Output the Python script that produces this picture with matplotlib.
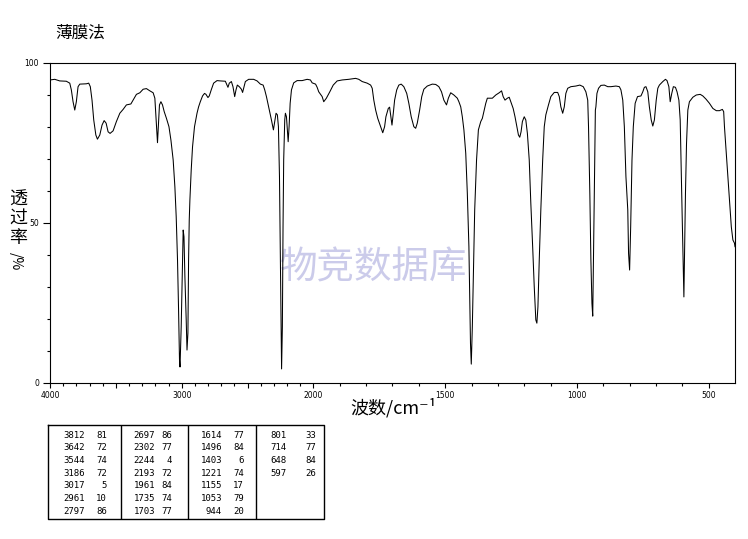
import numpy as np
import matplotlib
matplotlib.use('Agg')
import matplotlib.pyplot as plt
from matplotlib.ticker import FixedLocator, FixedFormatter

# --- spectrum (wavenumber / cm-1, transmittance %) ---
# 4000 - 2000 part (drawn at half scale)
wn_hi = [4000, 3964, 3926, 3876, 3850, 3838, 3825, 3812, 3800, 3787,
         3774, 3724, 3706, 3694, 3681, 3668, 3652, 3640, 3622, 3605,
         3589, 3574, 3559, 3544, 3521, 3496, 3470, 3445, 3420, 3386,
         3361, 3344, 3318, 3293, 3268, 3242, 3217, 3204, 3196, 3189,
         3184, 3176, 3169, 3158, 3146, 3133, 3116, 3097, 3082, 3065,
         3052, 3042, 3032, 3024, 3017, 3013, 3004, 2996, 2989, 2983,
         2976, 2966, 2960, 2953, 2948, 2943, 2938, 2928, 2918, 2903,
         2884, 2872, 2859, 2842, 2827, 2816, 2801, 2791, 2776, 2758,
         2732, 2707, 2669, 2656, 2649, 2639, 2623, 2611, 2598, 2588,
         2578, 2563, 2547, 2538, 2530, 2517, 2492, 2454, 2428, 2403,
         2382, 2370, 2357, 2340, 2319, 2304, 2294, 2284, 2274, 2266,
         2258, 2251, 2246, 2242, 2236, 2231, 2226, 2218, 2213, 2205,
         2200, 2192, 2185, 2177, 2167, 2150, 2124, 2086, 2048, 2023,
         2010]
t_hi = [94.7, 94.9, 94.4, 94.3, 93.7, 91.6, 87.9, 85.3, 87.9, 92.6,
        93.4, 93.5, 93.7, 92.6, 88.4, 82.2, 77.5, 76.2, 77.5, 80.6,
        82.0, 81.2, 78.5, 78.0, 78.8, 81.7, 84.3, 85.5, 86.9, 87.2,
        89.0, 90.2, 90.7, 91.8, 92.0, 91.3, 90.7, 89.0, 83.2, 78.0,
        75.1, 81.2, 86.9, 87.9, 86.9, 84.8, 82.7, 80.1, 75.9, 69.7,
        61.3, 52.0, 38.4, 22.8, 7.2, 5.0, 17.6, 34.3, 47.8, 45.7,
        33.2, 19.7, 10.3, 15.6, 38.4, 50.9, 57.2, 66.6, 73.8, 80.1,
        84.3, 86.3, 87.9, 89.7, 90.5, 90.2, 89.2, 89.7, 91.6, 93.7,
        94.5, 94.4, 94.3, 93.1, 92.4, 93.7, 94.2, 92.6, 89.5, 91.6,
        93.1, 92.6, 91.8, 90.8, 92.1, 94.2, 94.9, 94.9, 94.4, 93.4,
        93.1, 91.6, 89.5, 86.3, 82.2, 79.1, 81.7, 84.3, 83.8, 80.1,
        64.5, 38.4, 17.6, 4.4, 17.6, 48.8, 69.7, 82.2, 84.3, 83.2,
        80.1, 75.4, 80.1, 87.4, 91.6, 93.8, 94.5, 94.5, 94.9, 94.7,
        93.8]

# 2000 - 400 part
wn_lo = [1992, 1986, 1980, 1967, 1961, 1951, 1938, 1925, 1910, 1891,
         1866, 1840, 1828, 1815, 1796, 1783, 1777, 1771, 1764, 1756,
         1745, 1737, 1730, 1725, 1716, 1711, 1707, 1702, 1697, 1692,
         1684, 1676, 1667, 1657, 1646, 1638, 1629, 1619, 1612, 1606,
         1597, 1589, 1581, 1568, 1549, 1536, 1524, 1514, 1505, 1495,
         1488, 1479, 1467, 1454, 1448, 1441, 1435, 1429, 1422, 1416,
         1410, 1407, 1404, 1401, 1397, 1393, 1388, 1381, 1374, 1365,
         1359, 1353, 1346, 1340, 1321, 1308, 1295, 1286, 1280, 1273,
         1264, 1257, 1251, 1242, 1235, 1228, 1222, 1217, 1212, 1207,
         1200, 1194, 1188, 1181, 1175, 1168, 1162, 1156, 1152, 1148,
         1143, 1137, 1130, 1124, 1118, 1108, 1099, 1086, 1073, 1067,
         1061, 1054, 1048, 1042, 1035, 1023, 1004, 989, 976, 966,
         959, 956, 951, 947, 943, 940, 938, 934, 930, 928,
         924, 918, 909, 896, 883, 871, 852, 839, 833, 826,
         820, 814, 807, 804, 800, 796, 791, 786, 779, 770,
         757, 750, 744, 738, 731, 725, 718, 712, 706, 699,
         693, 687, 674, 664, 658, 651, 646, 640, 634, 626,
         620, 613, 608, 605, 601, 597, 594, 591, 588, 584,
         579, 573, 560, 547, 532, 522, 510, 497, 484, 471,
         459, 448, 443, 440, 433, 427, 421, 414, 408, 402,
         400]
t_lo = [93.4, 92.4, 91.0, 89.5, 87.9, 89.0, 91.0, 93.1, 94.4, 94.7,
        94.9, 95.2, 94.9, 94.2, 93.7, 93.1, 92.1, 88.4, 85.3, 82.7,
        80.1, 78.2, 80.1, 83.2, 85.8, 86.2, 83.8, 80.6, 84.3, 88.4,
        91.6, 93.1, 93.4, 92.6, 90.5, 87.4, 83.2, 80.1, 79.6, 81.2,
        85.3, 89.5, 91.8, 92.8, 93.4, 93.3, 92.6, 91.0, 88.4, 86.9,
        89.0, 90.7, 90.0, 89.0, 87.9, 86.3, 83.2, 79.1, 71.8, 59.3,
        42.6, 28.0, 12.4, 5.9, 17.6, 33.2, 54.1, 69.7, 79.1, 81.7,
        82.7, 84.8, 87.4, 89.0, 89.0, 90.0, 90.7, 91.3, 89.5, 88.4,
        89.0, 89.3, 87.9, 85.8, 83.2, 80.1, 77.5, 76.8, 78.5, 81.7,
        83.2, 82.2, 78.0, 69.7, 56.2, 42.6, 30.1, 19.7, 18.7, 23.8,
        38.4, 54.1, 69.7, 80.1, 83.8, 86.9, 89.5, 90.8, 90.8, 89.5,
        86.3, 84.3, 86.3, 90.5, 92.1, 92.6, 92.8, 93.1, 92.6, 91.0,
        88.4, 80.1, 59.3, 38.4, 24.9, 20.9, 33.2, 59.3, 85.3, 86.3,
        90.5, 92.1, 93.0, 93.1, 92.6, 92.6, 92.8, 92.6, 91.6, 88.4,
        80.1, 64.5, 54.1, 40.5, 35.3, 48.8, 69.7, 80.1, 87.4, 89.5,
        89.7, 91.0, 92.4, 92.6, 91.0, 86.3, 82.2, 80.3, 82.2, 88.4,
        92.1, 93.1, 94.2, 94.9, 94.5, 92.6, 87.9, 90.5, 92.6, 92.4,
        91.0, 88.4, 82.2, 69.7, 54.1, 38.4, 26.9, 43.7, 59.3, 74.9,
        85.3, 87.9, 89.3, 90.0, 90.2, 89.7, 88.7, 87.4, 85.8, 85.1,
        85.1, 85.5, 84.8, 80.1, 71.8, 64.5, 57.2, 48.8, 44.7, 43.7,
        42.6]

# --- peak table ---
peak_wn = [3812, 3642, 3544, 3186, 3017, 2961, 2797,
           2697, 2302, 2244, 2193, 1961, 1735, 1703,
           1614, 1496, 1403, 1221, 1155, 1053, 944,
           801, 714, 648, 597]
peak_t = [81, 72, 74, 72, 5, 10, 86,
          86, 77, 4, 72, 84, 74, 77,
          77, 84, 6, 74, 17, 79, 20,
          33, 77, 84, 26]

xtick_pos = [4000, 3500, 3000, 2500, 2000, 1500, 1000, 500]
xtick_lab = ['4000', '', '3000', '', '2000', '1500', '1000', '500']
ytick_pos = [0, 50, 100]
ytick_lab = ['0', '50', '100']

CJK = ['Noto Sans CJK SC', 'DejaVu Sans']


def fwd(x):
    # above 2000 cm-1 the axis is compressed by two
    x = np.asarray(x, dtype=float)
    return np.where(x <= 2000, x, 2000 + (x - 2000) / 2)


def inv(u):
    u = np.asarray(u, dtype=float)
    return np.where(u <= 2000, u, 2000 + (u - 2000) * 2)


W, H = 748, 539
fig = plt.figure(figsize=(W / 100, H / 100), dpi=100)

# --- spectrum ---
ax = fig.add_axes([50 / W, 1 - 383 / H, 685 / W, 320 / H])
ax.set_xscale('function', functions=(fwd, inv))
ax.plot(wn_hi + wn_lo, t_hi + t_lo, color='black', lw=0.75, zorder=3)
ax.set_xlim(4000, 400)
ax.set_ylim(0, 100)

ax.xaxis.set_major_locator(FixedLocator(xtick_pos))
ax.xaxis.set_major_formatter(FixedFormatter(xtick_lab))
ax.xaxis.set_minor_locator(FixedLocator([v for v in range(500, 4000, 100) if v not in xtick_pos]))
ax.yaxis.set_major_locator(FixedLocator(ytick_pos))
ax.yaxis.set_major_formatter(FixedFormatter(ytick_lab))
ax.yaxis.set_minor_locator(FixedLocator(list(range(10, 100, 10))))

ax.tick_params(axis='x', which='major', direction='out', length=3.5, width=0.8, labelsize=5.5, pad=2.5)
ax.tick_params(axis='x', which='minor', direction='out', length=2, width=0.8)
ax.tick_params(axis='y', which='major', direction='out', length=5, width=0.8, labelsize=5.5, pad=3)
ax.tick_params(axis='y', which='minor', direction='out', length=2, width=0.8)
for s in ax.spines.values():
    s.set_linewidth(0.8)

# watermark
ax.text(374 / W, 1 - 268 / H, '物竞数据库', transform=fig.transFigure, color='#cbcbea',
        fontsize=27, ha='center', va='center', family=CJK, zorder=1)

# --- titles / labels ---
fig.text(55 / W, 1 - 33 / H, '薄膜法', fontsize=12, va='center', family=CJK)
for ch, yy in zip('透过率', [200, 219, 238]):
    fig.text(18 / W, 1 - yy / H, ch, fontsize=13, ha='center', va='center', family=CJK)
fig.text(16 / W, 1 - 261 / H, '/%', fontsize=10, rotation=270, ha='center', va='center', family=CJK)
fig.text(393 / W, 1 - 408 / H, '波数/cm⁻¹', fontsize=13, ha='center', va='center', family=CJK)

# --- peak table ---
tab = fig.add_axes([48 / W, 1 - 519 / H, 276 / W, 94 / H])
tab.set_xlim(0, 276)
tab.set_ylim(94, 0)
tab.axis('off')
tab.plot([0, 276, 276, 0, 0], [0, 0, 94, 94, 0], color='black', lw=1, clip_on=False)
for xd in [73, 140, 208]:
    tab.plot([xd, xd], [0, 94], color='black', lw=1)

wn_right = [37, 107, 174, 239]
t_right = [59, 124, 196, 268]
for i, (w, t) in enumerate(zip(peak_wn, peak_t)):
    col, row = divmod(i, 7)
    yy = 10 + row * 12.7
    tab.text(wn_right[col], yy, str(w), ha='right', va='center', fontsize=6.5, family='DejaVu Sans Mono')
    tab.text(t_right[col], yy, str(t), ha='right', va='center', fontsize=6.5, family='DejaVu Sans Mono')

fig.savefig('out.png', dpi=100)
